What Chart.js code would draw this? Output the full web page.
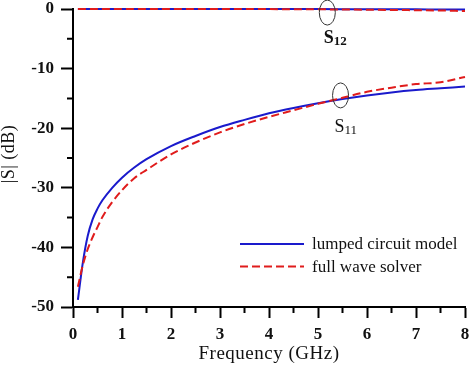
<!DOCTYPE html>
<html>
<head>
<meta charset="utf-8">
<script src="https://cdn.jsdelivr.net/npm/chart.js@4.4.1/dist/chart.umd.min.js"></script>
<style>
  html, body { margin: 0; padding: 0; background: #fff; }
  #wrap { width: 474px; height: 366px; }
</style>
</head>
<body>
<div id="wrap"><canvas id="myChart"></canvas></div>
<script>
// S11 curves (GHz, dB)
const freqS11 = [0.1, 0.2, 0.3, 0.4, 0.5, 0.6, 0.8, 1.0, 1.25, 1.5, 2, 2.5, 3, 3.5, 4, 4.5, 5, 5.5, 6, 6.5, 7, 7.5, 8];
const lumpedS11 = [-48.8, -42.6, -38.1, -35.3, -33.5, -32.1, -30.0, -28.3, -26.6, -25.2, -23.0, -21.3, -19.8, -18.6, -17.5, -16.6, -15.8, -15.1, -14.5, -14.0, -13.6, -13.3, -13.0];
const solverS11 = [-46.6, -43.0, -40.3, -38.3, -36.6, -34.9, -32.4, -30.4, -28.4, -27.0, -24.4, -22.4, -20.7, -19.3, -18.1, -17.0, -15.9, -14.9, -13.9, -13.2, -12.6, -12.3, -11.4];

// S12 curves
const freqS12 = [0.1, 1, 2, 3, 4, 5, 6, 7, 7.5, 8];
const lumpedS12 = [0, 0, 0, 0, 0, -0.02, -0.04, -0.06, -0.07, -0.08];
const solverS12 = [0, 0, 0, 0, -0.02, -0.05, -0.12, -0.2, -0.25, -0.35];

// annotation markers (GHz, dB)
const markS12 = [5.19, -0.6];
const markS11 = [5.46, -14.5];
const labelS12 = [5.28, -5.7];
const labelS11 = [5.5, -20.7];

const blue = "#1a1acc";
const red = "#e01c1c";

function pts(xs, ys) {
  return xs.map((x, i) => ({ x: x, y: ys[i] }));
}

const extras = {
  id: "extras",
  afterDraw(chart) {
    const ctx = chart.ctx;
    const xs = chart.scales.x;
    const ys = chart.scales.y;
    ctx.save();
    // minor ticks
    ctx.strokeStyle = "#000";
    ctx.lineWidth = 2;
    ctx.beginPath();
    for (let v = 0.5; v < 8; v += 1) {
      const px = xs.getPixelForValue(v);
      ctx.moveTo(px, ys.bottom);
      ctx.lineTo(px, ys.bottom + 6);
    }
    for (let v = -45; v < 0; v += 10) {
      const py = ys.getPixelForValue(v);
      ctx.moveTo(xs.left, py);
      ctx.lineTo(xs.left - 6, py);
    }
    ctx.stroke();

    // ellipses
    ctx.strokeStyle = "#333";
    ctx.lineWidth = 1;
    [markS12, markS11].forEach((m) => {
      ctx.beginPath();
      ctx.ellipse(xs.getPixelForValue(m[0]), ys.getPixelForValue(m[1]), 8, 12.5, 0, 0, Math.PI * 2);
      ctx.stroke();
    });

    // S labels
    ctx.fillStyle = "#111";
    ctx.textBaseline = "alphabetic";
    ctx.textAlign = "left";
    let lx = xs.getPixelForValue(labelS12[0]);
    let ly = ys.getPixelForValue(labelS12[1]);
    ctx.font = "bold 18px 'Liberation Serif'";
    ctx.fillText("S", lx - 8, ly);
    ctx.font = "bold 13px 'Liberation Serif'";
    ctx.fillText("12", lx + 2, ly + 2);
    lx = xs.getPixelForValue(labelS11[0]);
    ly = ys.getPixelForValue(labelS11[1]);
    ctx.font = "18px 'Liberation Serif'";
    ctx.fillText("S", lx - 8, ly);
    ctx.font = "13px 'Liberation Serif'";
    ctx.fillText("11", lx + 2, ly + 2);

    // legend
    const items = [
      { text: "lumped circuit model", color: blue, dash: [] },
      { text: "full wave solver", color: red, dash: [8, 4] },
    ];
    items.forEach((it, i) => {
      const y = 244 + i * 22.5;
      ctx.strokeStyle = it.color;
      ctx.lineWidth = 2;
      ctx.setLineDash(it.dash);
      ctx.beginPath();
      ctx.moveTo(240, y);
      ctx.lineTo(304, y);
      ctx.stroke();
      ctx.setLineDash([]);
      ctx.fillStyle = "#111";
      ctx.font = "17px 'Liberation Serif'";
      ctx.textBaseline = "middle";
      ctx.fillText(it.text, 312, y + 1);
    });

    // axis titles
    ctx.letterSpacing = "0.5px";
    ctx.font = "19px 'Liberation Serif'";
    ctx.textAlign = "center";
    ctx.textBaseline = "middle";
    ctx.fillText("Frequency (GHz)", (xs.left + xs.right) / 2, 354);
    ctx.save();
    ctx.translate(9, 154);
    ctx.rotate(-Math.PI / 2);
    ctx.font = "18px 'Liberation Serif'";
    ctx.fillText("|S| (dB)", 0, 0);
    ctx.restore();
    ctx.restore();
  },
};

const line = { borderWidth: 2, pointRadius: 0, cubicInterpolationMode: "monotone", clip: false };

const ctx = document.getElementById("myChart").getContext("2d");
new Chart(ctx, {
  type: "line",
  data: {
    // red series first so they draw on top of the blue ones
    datasets: [
      { ...line, data: pts(freqS11, solverS11), borderColor: red, borderDash: [8, 4] },
      { ...line, data: pts(freqS12, solverS12), borderColor: red, borderDash: [8, 4] },
      { ...line, data: pts(freqS11, lumpedS11), borderColor: blue },
      { ...line, data: pts(freqS12, lumpedS12), borderColor: blue },
    ],
  },
  options: {
    responsive: true,
    maintainAspectRatio: false,
    animation: false,
    layout: { padding: { top: 9, right: 9, left: 0, bottom: 0 } },
    plugins: { legend: { display: false }, tooltip: { enabled: false } },
    scales: {
      x: {
        type: "linear",
        min: 0,
        max: 8,
        afterFit: (s) => { s.height = 59; s.paddingLeft = 0; s.paddingRight = 0; },
        border: { color: "#000", width: 2 },
        grid: { drawOnChartArea: false, drawTicks: true, tickLength: 11, tickWidth: 2, tickColor: "#000" },
        ticks: { stepSize: 1, padding: 6, color: "#111", font: { family: "'Liberation Serif'", size: 17, weight: "bold" } },
      },
      y: {
        min: -50,
        max: 0,
        afterFit: (s) => { s.width = 73; s.paddingTop = 0; s.paddingBottom = 0; },
        border: { color: "#000", width: 2 },
        grid: { drawOnChartArea: false, drawTicks: true, tickLength: 12, tickWidth: 2, tickColor: "#000" },
        ticks: { stepSize: 10, padding: 7, color: "#111", font: { family: "'Liberation Serif'", size: 17, weight: "bold" } },
      },
    },
  },
  plugins: [extras],
});
</script>
</body>
</html>
